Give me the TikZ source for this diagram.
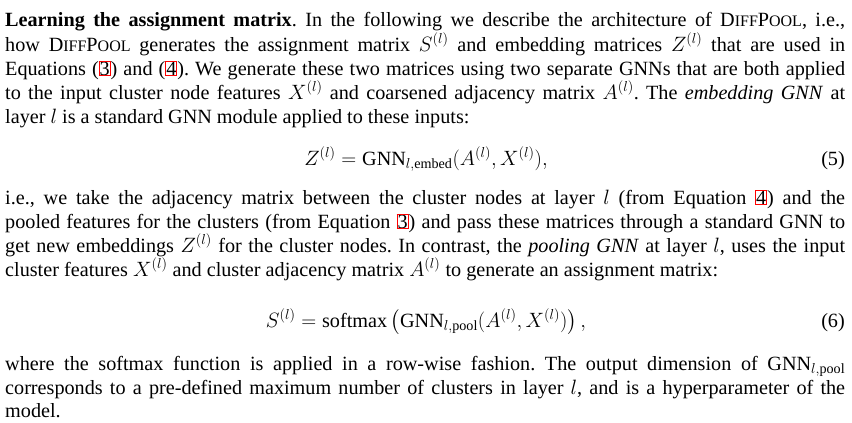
\documentclass[tikz,border=0pt]{standalone}
\usepackage{amsmath}
\usepackage{fontspec}
\setmainfont{Liberation Serif}
\frenchspacing
\newcommand{\DP}{D{\fontsize{16}{18}\selectfont IFF}P{\fontsize{16}{18}\selectfont OOL}}
\newcommand{\rr}[1]{{\fboxrule=0.9pt\fboxsep=0pt\color{red}\fbox{\color{black}#1}}}
\newcommand{\jline}[1]{\makebox[840pt][s]{#1}}
\tikzset{ln/.style={anchor=base west,inner sep=0pt,font=\fontsize{20.2}{24}\selectfont}}
\begin{document}
\begin{tikzpicture}[x=1pt,y=-1pt]
\useasboundingbox (0,0) rectangle (852,423);
\node[ln] (l1) at (5,27) {\jline{\textbf{Learning the assignment matrix}. In the following we describe the architecture of \DP, i.e.,}};
\node[ln] (l2) at (5,51) {\jline{how \DP\ generates the assignment matrix $S^{(l)}$ and embedding matrices $Z^{(l)}$ that are used in}};
\node[ln] (l3) at (5,75) {\jline{Equations (\rr{3}) and (\rr{4}). We generate these two matrices using two separate GNNs that are both applied}};
\node[ln] (l4) at (5,99) {\jline{to the input cluster node features $X^{(l)}$ and coarsened adjacency matrix $A^{(l)}$. The \emph{embedding GNN} at}};
\node[ln] (l5) at (5,123) {layer $l$ is a standard GNN module applied to these inputs:};
\node[ln,anchor=base] (e5) at (426,165) {$Z^{(l)} = \mathrm{GNN}_{l,\mathrm{embed}}(A^{(l)}, X^{(l)}),$};
\node[ln,anchor=base east] (n5) at (845,165) {(5)};
\node[ln] (l6) at (5,204) {\jline{i.e., we take the adjacency matrix between the cluster nodes at layer $l$ (from Equation \rr{4}) and the}};
\node[ln] (l7) at (5,228) {\jline{pooled features for the clusters (from Equation \rr{3}) and pass these matrices through a standard GNN to}};
\node[ln] (l8) at (5,252) {\jline{get new embeddings $Z^{(l)}$ for the cluster nodes. In contrast, the \emph{pooling GNN} at layer $l$, uses the input}};
\node[ln] (l9) at (5,276) {cluster features $X^{(l)}$ and cluster adjacency matrix $A^{(l)}$ to generate an assignment matrix:};
\node[ln,anchor=base] (e6) at (426,327) {$S^{(l)} = \mathrm{softmax}\left(\mathrm{GNN}_{l,\mathrm{pool}}(A^{(l)}, X^{(l)})\right),$};
\node[ln,anchor=base east] (n6) at (845,327) {(6)};
\node[ln] (l10) at (5,370) {\jline{where the softmax function is applied in a row-wise fashion. The output dimension of GNN$_{l,\mathrm{pool}}$}};
\node[ln] (l11) at (5,394) {\jline{corresponds to a pre-defined maximum number of clusters in layer $l$, and is a hyperparameter of the}};
\node[ln] (l12) at (5,417) {model.};
\end{tikzpicture}
\end{document}
